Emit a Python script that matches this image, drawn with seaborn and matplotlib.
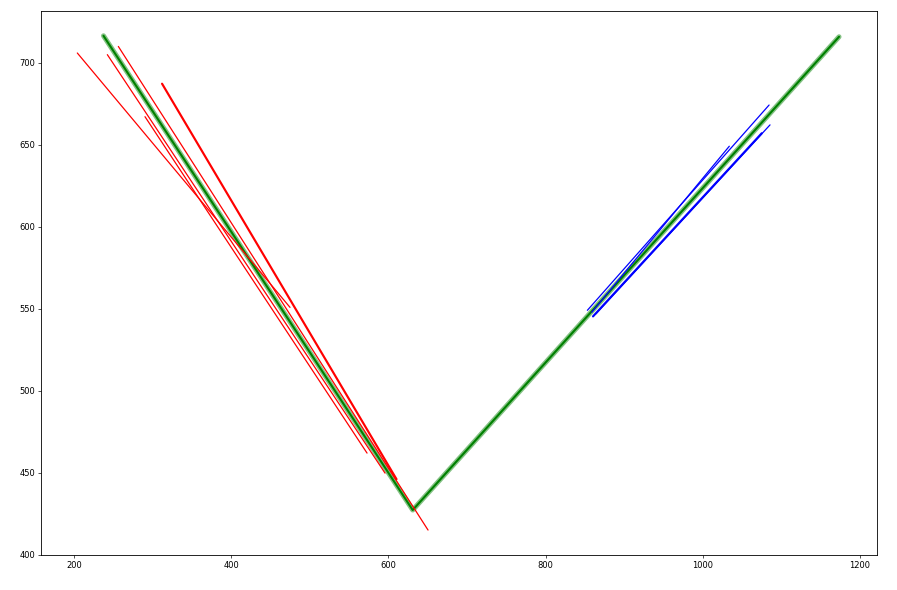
import numpy as np
import matplotlib
matplotlib.use("Agg")
import matplotlib.pyplot as plt
import pandas as pd
import seaborn as sns

# measured path (V shape)
path_x = [237.5, 630.9, 1173.3]
path_y = [716.4, 427.4, 715.8]

# fitted segments, left branch
red_x0 = [204.2, 242.4, 256.4, 312.0, 290.3]
red_y0 = [705.9, 704.9, 709.9, 687.2, 667.1]
red_x1 = [474.8, 595.7, 650.4, 610.3, 572.8]
red_y1 = [550.9, 449.9, 415.2, 446.2, 462.1]
red_lw = [1.5, 1.5, 1.5, 2.6, 1.5]

# fitted segments, right branch
blue_x0 = [853.1, 858.7, 860.3, 864.1]
blue_y0 = [549.1, 547.9, 545.4, 547.0]
blue_x1 = [1084.3, 1033.7, 1075.0, 1085.5]
blue_y1 = [674.2, 649.1, 657.0, 662.1]
blue_lw = [1.5, 1.5, 2.6, 1.5]

sns.set_style("ticks")
plt.rcParams['font.family'] = ['DejaVu Sans']

fig, ax = plt.subplots(figsize=(897/60, 590/60), dpi=60)
fig.subplots_adjust(left=41/897, right=877/897, top=1-11/590, bottom=1-555/590)

df_path = pd.DataFrame({'x': path_x, 'y': path_y})
# marker band + core line
sns.lineplot(data=df_path, x='x', y='y', sort=False, estimator=None, ax=ax,
             color='#1f8f1f', alpha=0.55, linewidth=6)
sns.lineplot(data=df_path, x='x', y='y', sort=False, estimator=None, ax=ax,
             color='green', linewidth=2.5)

for i in range(len(red_x0)):
    seg = pd.DataFrame({'x': [red_x0[i], red_x1[i]], 'y': [red_y0[i], red_y1[i]]})
    sns.lineplot(data=seg, x='x', y='y', sort=False, estimator=None, ax=ax,
                 color='red', linewidth=red_lw[i])

for i in range(len(blue_x0)):
    seg = pd.DataFrame({'x': [blue_x0[i], blue_x1[i]], 'y': [blue_y0[i], blue_y1[i]]})
    sns.lineplot(data=seg, x='x', y='y', sort=False, estimator=None, ax=ax,
                 color='blue', linewidth=blue_lw[i])

ax.set_xlim(158, 1221.6)
ax.set_ylim(400, 731.5)
ax.set_xlabel('')
ax.set_ylabel('')
for s in ax.spines.values():
    s.set_color('black')
    s.set_linewidth(1)
ax.tick_params(colors='black', labelsize=10)

plt.savefig('out.png', dpi=60)
